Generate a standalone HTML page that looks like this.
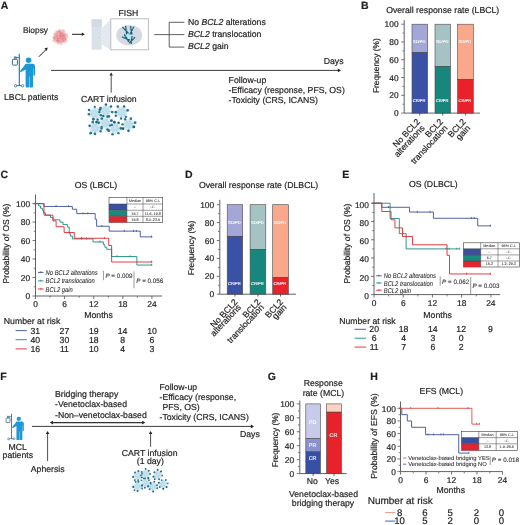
<!DOCTYPE html><html><head><meta charset="utf-8"><title>Figure</title><style>html,body{margin:0;padding:0;background:#fff;width:520px;height:525px;overflow:hidden}svg{display:block}svg text{fill:#231f20;stroke:#231f20;stroke-width:0.2px}</style></head><body><svg width="520" height="525" viewBox="0 0 520 525" font-family='"Liberation Sans", Arial, Helvetica, sans-serif' fill="#231f20" text-rendering="geometricPrecision"><text x="0.80" y="9.10" font-size="10.5" font-weight="bold">A</text>
<text x="22.90" y="33.20" font-size="8.4">Biopsy</text>
<defs><radialGradient id="blob" cx="50%" cy="50%" r="50%"><stop offset="0" stop-color="#ec9599"/><stop offset="0.75" stop-color="#f0a7aa"/><stop offset="1" stop-color="#f6c9cb" stop-opacity="0.5"/></radialGradient></defs>
<circle cx="66.6" cy="37.1" r="1.80" fill="#f3b9bc" opacity="0.75"/>
<circle cx="65.5" cy="40.5" r="1.86" fill="#f3b9bc" opacity="0.75"/>
<circle cx="64.6" cy="41.3" r="1.87" fill="#f3b9bc" opacity="0.75"/>
<circle cx="61.2" cy="43.5" r="1.46" fill="#f3b9bc" opacity="0.75"/>
<circle cx="58.7" cy="43.0" r="1.67" fill="#f3b9bc" opacity="0.75"/>
<circle cx="56.1" cy="41.5" r="1.51" fill="#f3b9bc" opacity="0.75"/>
<circle cx="54.1" cy="40.2" r="1.78" fill="#f3b9bc" opacity="0.75"/>
<circle cx="53.4" cy="37.6" r="1.47" fill="#f3b9bc" opacity="0.75"/>
<circle cx="54.6" cy="34.1" r="1.40" fill="#f3b9bc" opacity="0.75"/>
<circle cx="56.7" cy="31.7" r="1.51" fill="#f3b9bc" opacity="0.75"/>
<circle cx="59.5" cy="30.2" r="1.54" fill="#f3b9bc" opacity="0.75"/>
<circle cx="62.3" cy="30.9" r="1.74" fill="#f3b9bc" opacity="0.75"/>
<circle cx="63.7" cy="31.3" r="1.75" fill="#f3b9bc" opacity="0.75"/>
<circle cx="66.4" cy="34.9" r="1.55" fill="#f3b9bc" opacity="0.75"/>
<circle cx="60" cy="36.9" r="7.0" fill="url(#blob)"/>
<circle cx="58.4" cy="38.8" r="0.56" fill="#d56872" opacity="0.5"/>
<circle cx="63.0" cy="38.2" r="0.74" fill="#d56872" opacity="0.5"/>
<circle cx="64.9" cy="37.0" r="0.64" fill="#d56872" opacity="0.5"/>
<circle cx="58.0" cy="41.9" r="0.69" fill="#d56872" opacity="0.5"/>
<circle cx="58.3" cy="40.7" r="0.78" fill="#d56872" opacity="0.5"/>
<circle cx="65.5" cy="39.0" r="0.51" fill="#d56872" opacity="0.5"/>
<circle cx="60.0" cy="31.4" r="0.51" fill="#d56872" opacity="0.5"/>
<circle cx="60.9" cy="33.4" r="0.73" fill="#d56872" opacity="0.5"/>
<circle cx="61.3" cy="37.0" r="0.57" fill="#d56872" opacity="0.5"/>
<circle cx="62.6" cy="36.2" r="0.80" fill="#d56872" opacity="0.5"/>
<circle cx="65.3" cy="34.4" r="0.64" fill="#d56872" opacity="0.5"/>
<circle cx="57.3" cy="40.3" r="0.81" fill="#d56872" opacity="0.5"/>
<circle cx="64.0" cy="40.2" r="0.82" fill="#d56872" opacity="0.5"/>
<circle cx="60.7" cy="36.0" r="0.88" fill="#d56872" opacity="0.5"/>
<circle cx="62.9" cy="38.8" r="0.74" fill="#d56872" opacity="0.5"/>
<circle cx="63.0" cy="35.2" r="0.87" fill="#d56872" opacity="0.5"/>
<circle cx="56.8" cy="36.0" r="0.63" fill="#d56872" opacity="0.5"/>
<circle cx="60.7" cy="38.4" r="0.56" fill="#d56872" opacity="0.5"/>
<circle cx="57.8" cy="31.3" r="0.56" fill="#d56872" opacity="0.5"/>
<circle cx="65.7" cy="38.7" r="0.71" fill="#d56872" opacity="0.5"/>
<circle cx="57.6" cy="38.5" r="0.74" fill="#d56872" opacity="0.5"/>
<circle cx="61.9" cy="33.3" r="0.67" fill="#d56872" opacity="0.5"/>
<circle cx="65.4" cy="38.9" r="0.51" fill="#d56872" opacity="0.5"/>
<circle cx="54.5" cy="37.1" r="0.55" fill="#d56872" opacity="0.5"/>
<circle cx="59.3" cy="31.1" r="0.75" fill="#d56872" opacity="0.5"/>
<circle cx="60.5" cy="35.0" r="0.67" fill="#d56872" opacity="0.5"/>
<circle cx="63.3" cy="41.3" r="0.62" fill="#d56872" opacity="0.5"/>
<circle cx="54.3" cy="38.6" r="0.84" fill="#d56872" opacity="0.5"/>
<circle cx="64.0" cy="36.3" r="0.70" fill="#d56872" opacity="0.5"/>
<circle cx="59.5" cy="32.8" r="0.62" fill="#d56872" opacity="0.5"/>
<line x1="72.00" y1="34.30" x2="82.50" y2="34.30" stroke="#231f20" stroke-width="1.0"/>
<polygon points="84.80,34.30 81.80,32.56 81.80,36.04" fill="#231f20"/>
<line x1="38.80" y1="56.80" x2="45.60" y2="50.00" stroke="#231f20" stroke-width="1.0"/>
<polygon points="47.70,47.60 44.35,48.49 46.81,50.95" fill="#231f20"/>
<g transform="translate(0,0) scale(1.0)"><line x1="19.3" y1="53.8" x2="19.3" y2="85.8" stroke="#2f6e8a" stroke-width="1.1"/><line x1="15.2" y1="57.6" x2="19.3" y2="57.6" stroke="#2f6e8a" stroke-width="0.9"/><rect x="14.3" y="56.9" width="1.9" height="2.2" fill="none" stroke="#2f6e8a" stroke-width="0.8"/><rect x="12.4" y="59.3" width="5.0" height="5.8" rx="0.8" fill="#fff" stroke="#2f6e8a" stroke-width="1.0"/><line x1="15.6" y1="85.6" x2="22.6" y2="85.6" stroke="#2f6e8a" stroke-width="0.9"/><circle cx="15.6" cy="85.8" r="1.2" fill="#fff" stroke="#2f6e8a" stroke-width="0.8"/><circle cx="22.6" cy="85.8" r="1.2" fill="#fff" stroke="#2f6e8a" stroke-width="0.8"/><circle cx="28.6" cy="60.3" r="2.75" fill="#1b98d5"/><path d="M24.6 65.2 Q25 63.8 26.6 63.8 L32.6 63.8 Q34.8 63.8 35 66 L35 75 Q35 75.8 34.2 75.8 Q33.4 75.8 33.4 75 L33.4 68.5 L33.1 68.5 L33.1 86.6 Q33.1 87.4 32.2 87.4 L30.2 87.4 Q29.5 87.4 29.5 86.6 L29.5 76.5 L29.1 76.5 L29.1 86.6 Q29.1 87.4 28.3 87.4 L26.4 87.4 Q25.6 87.4 25.6 86.6 L25.6 69.5 L21.2 72 Q20.4 72.4 20.1 71.6 Q19.9 70.9 20.6 70.4 Z" fill="#1b98d5"/></g>
<text x="4.00" y="100.40" font-size="8.7">LBCL patients</text>
<rect x="91.6" y="19.3" width="10.1" height="30.4" fill="#d9e1ea"/>
<rect x="91.6" y="19.3" width="10.1" height="7.5" fill="#d2dae4"/>
<circle cx="98" cy="36.3" r="1.5" fill="#eee6d2"/>
<circle cx="98.6" cy="37" r="0.5" fill="#b9a98a"/>
<polygon points="101.7,28.6 110.8,18.8 110.8,49.8 101.7,44.6" fill="#e3e9ef"/>
<rect x="110.8" y="18.8" width="37.6" height="31" fill="#fff" stroke="#b3b7bc" stroke-width="0.9"/>
<ellipse cx="129.2" cy="35.2" rx="13" ry="10.3" fill="#d5dae2"/>
<ellipse cx="128.2" cy="35.8" rx="4.2" ry="4.8" fill="#bfe5ef" opacity="0.9"/>
<g transform="translate(125.8,30.2) rotate(-25) scale(1)"><path d="M-1.5 -3.6 L0.9 3.6 M1.5 -3.6 L-0.9 3.6" stroke="#22647b" stroke-width="1.35" fill="none" stroke-linecap="round"/><path d="M-1.1 -2.2 L1.1 -2.2" stroke="#6fbfd3" stroke-width="0.7"/></g>
<g transform="translate(131.5,30.5) rotate(8) scale(1)"><path d="M-1.5 -3.6 L0.9 3.6 M1.5 -3.6 L-0.9 3.6" stroke="#22647b" stroke-width="1.35" fill="none" stroke-linecap="round"/><path d="M-1.1 -2.2 L1.1 -2.2" stroke="#6fbfd3" stroke-width="0.7"/></g>
<g transform="translate(126.4,38.4) rotate(-50) scale(1.05)"><path d="M-1.5 -3.6 L0.9 3.6 M1.5 -3.6 L-0.9 3.6" stroke="#22647b" stroke-width="1.35" fill="none" stroke-linecap="round"/><path d="M-1.1 -2.2 L1.1 -2.2" stroke="#6fbfd3" stroke-width="0.7"/></g>
<g transform="translate(131.9,40.0) rotate(25) scale(0.95)"><path d="M-1.5 -3.6 L0.9 3.6 M1.5 -3.6 L-0.9 3.6" stroke="#22647b" stroke-width="1.35" fill="none" stroke-linecap="round"/><path d="M-1.1 -2.2 L1.1 -2.2" stroke="#6fbfd3" stroke-width="0.7"/></g>
<text x="118.50" y="16.20" font-size="8.7">FISH</text>
<line x1="154.20" y1="34.60" x2="169.20" y2="34.60" stroke="#3a3a3a" stroke-width="0.8"/>
<line x1="169.20" y1="22.30" x2="169.20" y2="47.10" stroke="#3a3a3a" stroke-width="0.8"/>
<line x1="169.20" y1="22.30" x2="184.30" y2="22.30" stroke="#3a3a3a" stroke-width="0.8"/>
<line x1="169.20" y1="34.60" x2="184.30" y2="34.60" stroke="#3a3a3a" stroke-width="0.8"/>
<line x1="169.20" y1="47.10" x2="184.30" y2="47.10" stroke="#3a3a3a" stroke-width="0.8"/>
<text x="188" y="25.1" font-size="8.7">No <tspan font-style="italic">BCL2</tspan> alterations</text>
<text x="188" y="37.2" font-size="8.7"><tspan font-style="italic">BCL2</tspan> translocation</text>
<text x="188" y="49.3" font-size="8.7"><tspan font-style="italic">BCL2</tspan> gain</text>
<line x1="51.00" y1="70.40" x2="338.00" y2="70.40" stroke="#3d3d3d" stroke-width="1.0"/>
<polygon points="341.00,70.40 337.80,68.54 337.80,72.26" fill="#231f20"/>
<text x="323.70" y="64.40" font-size="8.7">Days</text>
<line x1="111.20" y1="92.70" x2="111.20" y2="75.50" stroke="#231f20" stroke-width="0.8"/>
<polygon points="111.20,72.60 109.46,75.60 112.94,75.60" fill="#231f20"/>
<text x="81.00" y="101.60" font-size="8.7">CART infusion</text>
<g transform="translate(111.6,120.4) scale(1.07)"><circle cx="-15.6" cy="-6.25" r="5.6" fill="#d9ecf3"/><circle cx="-5.6" cy="-9" r="5.6" fill="#d9ecf3"/><circle cx="9.4" cy="-7.5" r="5.6" fill="#d9ecf3"/><circle cx="-5.6" cy="2.5" r="5.6" fill="#d9ecf3"/><circle cx="-15.6" cy="7" r="5.6" fill="#d9ecf3"/><circle cx="3.4" cy="7" r="5.6" fill="#d9ecf3"/><circle cx="15.9" cy="4" r="5.6" fill="#d9ecf3"/><circle cx="-15.6" cy="-6.25" r="3.6" fill="#c2dfeb"/><circle cx="-5.6" cy="-9" r="3.6" fill="#c2dfeb"/><circle cx="9.4" cy="-7.5" r="3.6" fill="#c2dfeb"/><circle cx="-5.6" cy="2.5" r="3.6" fill="#c2dfeb"/><circle cx="-15.6" cy="7" r="3.6" fill="#c2dfeb"/><circle cx="3.4" cy="7" r="3.6" fill="#c2dfeb"/><circle cx="15.9" cy="4" r="3.6" fill="#c2dfeb"/><line x1="-13.2" y1="-5.7" x2="-10.0" y2="-4.9" stroke="#b3d9e8" stroke-width="0.9"/><line x1="-14.6" y1="-4.0" x2="-13.1" y2="-0.7" stroke="#b3d9e8" stroke-width="0.9"/><line x1="-16.3" y1="-3.8" x2="-17.0" y2="-1.1" stroke="#b3d9e8" stroke-width="0.9"/><line x1="-18.1" y1="-6.0" x2="-21.2" y2="-5.7" stroke="#b3d9e8" stroke-width="0.9"/><line x1="-17.7" y1="-7.6" x2="-21.1" y2="-9.7" stroke="#b3d9e8" stroke-width="0.9"/><line x1="-15.7" y1="-8.7" x2="-15.7" y2="-12.6" stroke="#b3d9e8" stroke-width="0.9"/><line x1="-13.7" y1="-7.8" x2="-10.9" y2="-10.1" stroke="#b3d9e8" stroke-width="0.9"/><line x1="-3.1" y1="-8.5" x2="0.6" y2="-7.8" stroke="#b3d9e8" stroke-width="0.9"/><line x1="-4.3" y1="-6.8" x2="-2.5" y2="-3.7" stroke="#b3d9e8" stroke-width="0.9"/><line x1="-6.6" y1="-6.7" x2="-7.8" y2="-4.1" stroke="#b3d9e8" stroke-width="0.9"/><line x1="-8.0" y1="-8.5" x2="-11.5" y2="-7.7" stroke="#b3d9e8" stroke-width="0.9"/><line x1="-7.8" y1="-10.2" x2="-10.3" y2="-11.6" stroke="#b3d9e8" stroke-width="0.9"/><line x1="-5.5" y1="-11.5" x2="-5.3" y2="-14.9" stroke="#b3d9e8" stroke-width="0.9"/><line x1="-3.6" y1="-10.6" x2="-0.6" y2="-13.0" stroke="#b3d9e8" stroke-width="0.9"/><line x1="11.1" y1="-5.7" x2="13.4" y2="-3.3" stroke="#b3d9e8" stroke-width="0.9"/><line x1="9.2" y1="-5.0" x2="8.9" y2="-1.7" stroke="#b3d9e8" stroke-width="0.9"/><line x1="7.2" y1="-6.2" x2="3.9" y2="-4.3" stroke="#b3d9e8" stroke-width="0.9"/><line x1="6.9" y1="-7.6" x2="3.9" y2="-7.7" stroke="#b3d9e8" stroke-width="0.9"/><line x1="8.0" y1="-9.6" x2="5.8" y2="-12.9" stroke="#b3d9e8" stroke-width="0.9"/><line x1="10.4" y1="-9.8" x2="11.7" y2="-13.1" stroke="#b3d9e8" stroke-width="0.9"/><line x1="11.8" y1="-8.3" x2="15.0" y2="-9.4" stroke="#b3d9e8" stroke-width="0.9"/><line x1="-3.2" y1="3.2" x2="0.2" y2="4.2" stroke="#b3d9e8" stroke-width="0.9"/><line x1="-4.9" y1="4.9" x2="-3.8" y2="8.6" stroke="#b3d9e8" stroke-width="0.9"/><line x1="-7.1" y1="4.5" x2="-9.4" y2="7.6" stroke="#b3d9e8" stroke-width="0.9"/><line x1="-8.1" y1="2.4" x2="-12.1" y2="2.2" stroke="#b3d9e8" stroke-width="0.9"/><line x1="-7.2" y1="0.6" x2="-9.2" y2="-1.7" stroke="#b3d9e8" stroke-width="0.9"/><line x1="-4.9" y1="0.1" x2="-3.9" y2="-3.7" stroke="#b3d9e8" stroke-width="0.9"/><line x1="-3.3" y1="1.6" x2="-0.1" y2="0.2" stroke="#b3d9e8" stroke-width="0.9"/><line x1="-13.4" y1="8.3" x2="-10.2" y2="10.2" stroke="#b3d9e8" stroke-width="0.9"/><line x1="-15.6" y1="9.5" x2="-15.6" y2="12.6" stroke="#b3d9e8" stroke-width="0.9"/><line x1="-17.2" y1="8.9" x2="-19.6" y2="11.9" stroke="#b3d9e8" stroke-width="0.9"/><line x1="-17.9" y1="6.1" x2="-20.6" y2="5.0" stroke="#b3d9e8" stroke-width="0.9"/><line x1="-16.5" y1="4.7" x2="-17.6" y2="1.6" stroke="#b3d9e8" stroke-width="0.9"/><line x1="-14.9" y1="4.6" x2="-14.1" y2="1.6" stroke="#b3d9e8" stroke-width="0.9"/><line x1="-13.1" y1="6.6" x2="-9.3" y2="6.1" stroke="#b3d9e8" stroke-width="0.9"/><line x1="5.9" y1="7.2" x2="8.7" y2="7.5" stroke="#b3d9e8" stroke-width="0.9"/><line x1="4.7" y1="9.1" x2="6.4" y2="11.9" stroke="#b3d9e8" stroke-width="0.9"/><line x1="2.4" y1="9.3" x2="0.8" y2="12.9" stroke="#b3d9e8" stroke-width="0.9"/><line x1="1.1" y1="8.0" x2="-2.6" y2="9.6" stroke="#b3d9e8" stroke-width="0.9"/><line x1="1.1" y1="6.0" x2="-1.5" y2="4.8" stroke="#b3d9e8" stroke-width="0.9"/><line x1="3.0" y1="4.5" x2="2.6" y2="1.7" stroke="#b3d9e8" stroke-width="0.9"/><line x1="4.8" y1="4.9" x2="6.6" y2="2.2" stroke="#b3d9e8" stroke-width="0.9"/><line x1="18.2" y1="5.0" x2="20.8" y2="6.1" stroke="#b3d9e8" stroke-width="0.9"/><line x1="15.8" y1="6.5" x2="15.8" y2="9.7" stroke="#b3d9e8" stroke-width="0.9"/><line x1="13.9" y1="5.4" x2="10.7" y2="7.7" stroke="#b3d9e8" stroke-width="0.9"/><line x1="13.4" y1="3.9" x2="10.1" y2="3.7" stroke="#b3d9e8" stroke-width="0.9"/><line x1="14.6" y1="1.9" x2="12.6" y2="-1.1" stroke="#b3d9e8" stroke-width="0.9"/><line x1="16.8" y1="1.7" x2="18.0" y2="-1.6" stroke="#b3d9e8" stroke-width="0.9"/><line x1="18.3" y1="3.3" x2="22.0" y2="2.1" stroke="#b3d9e8" stroke-width="0.9"/><circle cx="-10.0" cy="-4.9" r="1.18" fill="#2a7890"/><circle cx="-13.1" cy="-0.7" r="1.12" fill="#1f6580"/><circle cx="-17.0" cy="-1.1" r="1.34" fill="#2a7890"/><circle cx="-21.2" cy="-5.7" r="1.21" fill="#2a7890"/><circle cx="-21.1" cy="-9.7" r="1.17" fill="#2a7890"/><circle cx="-15.7" cy="-12.6" r="1.06" fill="#2a7890"/><circle cx="-10.9" cy="-10.1" r="1.24" fill="#1f6580"/><circle cx="0.6" cy="-7.8" r="1.24" fill="#2a7890"/><circle cx="-2.5" cy="-3.7" r="1.25" fill="#2a7890"/><circle cx="-7.8" cy="-4.1" r="1.26" fill="#2a7890"/><circle cx="-11.5" cy="-7.7" r="1.06" fill="#1f6580"/><circle cx="-10.3" cy="-11.6" r="1.25" fill="#2a7890"/><circle cx="-5.3" cy="-14.9" r="1.13" fill="#1f6580"/><circle cx="-0.6" cy="-13.0" r="1.23" fill="#2a7890"/><circle cx="13.4" cy="-3.3" r="1.16" fill="#2a7890"/><circle cx="8.9" cy="-1.7" r="1.16" fill="#2a7890"/><circle cx="3.9" cy="-4.3" r="1.14" fill="#2a7890"/><circle cx="3.9" cy="-7.7" r="1.28" fill="#2a7890"/><circle cx="5.8" cy="-12.9" r="1.22" fill="#2a7890"/><circle cx="11.7" cy="-13.1" r="1.14" fill="#1f6580"/><circle cx="15.0" cy="-9.4" r="1.29" fill="#2a7890"/><circle cx="0.2" cy="4.2" r="1.11" fill="#2a7890"/><circle cx="-3.8" cy="8.6" r="1.26" fill="#2a7890"/><circle cx="-9.4" cy="7.6" r="1.15" fill="#2a7890"/><circle cx="-12.1" cy="2.2" r="1.30" fill="#2a7890"/><circle cx="-9.2" cy="-1.7" r="1.31" fill="#2a7890"/><circle cx="-3.9" cy="-3.7" r="1.15" fill="#2a7890"/><circle cx="-0.1" cy="0.2" r="1.32" fill="#1f6580"/><circle cx="-10.2" cy="10.2" r="1.12" fill="#2a7890"/><circle cx="-15.6" cy="12.6" r="1.21" fill="#2a7890"/><circle cx="-19.6" cy="11.9" r="1.29" fill="#2a7890"/><circle cx="-20.6" cy="5.0" r="1.11" fill="#1f6580"/><circle cx="-17.6" cy="1.6" r="1.29" fill="#2a7890"/><circle cx="-14.1" cy="1.6" r="1.29" fill="#1f6580"/><circle cx="-9.3" cy="6.1" r="1.09" fill="#2a7890"/><circle cx="8.7" cy="7.5" r="1.29" fill="#2a7890"/><circle cx="6.4" cy="11.9" r="1.15" fill="#2a7890"/><circle cx="0.8" cy="12.9" r="1.18" fill="#2a7890"/><circle cx="-2.6" cy="9.6" r="1.33" fill="#2a7890"/><circle cx="-1.5" cy="4.8" r="1.05" fill="#2a7890"/><circle cx="2.6" cy="1.7" r="1.31" fill="#1f6580"/><circle cx="6.6" cy="2.2" r="1.18" fill="#1f6580"/><circle cx="20.8" cy="6.1" r="1.33" fill="#1f6580"/><circle cx="15.8" cy="9.7" r="1.27" fill="#2a7890"/><circle cx="10.7" cy="7.7" r="1.25" fill="#1f6580"/><circle cx="10.1" cy="3.7" r="1.14" fill="#2a7890"/><circle cx="12.6" cy="-1.1" r="1.12" fill="#2a7890"/><circle cx="18.0" cy="-1.6" r="1.23" fill="#2a7890"/><circle cx="22.0" cy="2.1" r="1.29" fill="#2a7890"/></g>
<text x="228.60" y="82.50" font-size="8.7">Follow-up</text>
<text x="228.60" y="92.80" font-size="8.7">-Efficacy (response, PFS, OS)</text>
<text x="228.60" y="103.00" font-size="8.7">-Toxicity (CRS, ICANS)</text>
<text x="360.90" y="9.20" font-size="10.5" font-weight="bold">B</text>
<text x="386.20" y="13.20" font-size="8.7">Overall response rate (LBCL)</text>
<line x1="404.20" y1="20.00" x2="404.20" y2="113.10" stroke="#505050" stroke-width="0.9"/>
<line x1="404.20" y1="113.10" x2="480.00" y2="113.10" stroke="#505050" stroke-width="0.9"/>
<line x1="401.20" y1="113.10" x2="404.20" y2="113.10" stroke="#505050" stroke-width="0.8"/>
<text x="398.60" y="116.10" font-size="8.4" text-anchor="end">0</text>
<line x1="402.40" y1="104.21" x2="404.20" y2="104.21" stroke="#505050" stroke-width="0.7"/>
<line x1="401.20" y1="95.32" x2="404.20" y2="95.32" stroke="#505050" stroke-width="0.8"/>
<text x="398.60" y="98.32" font-size="8.4" text-anchor="end">20</text>
<line x1="402.40" y1="86.43" x2="404.20" y2="86.43" stroke="#505050" stroke-width="0.7"/>
<line x1="401.20" y1="77.54" x2="404.20" y2="77.54" stroke="#505050" stroke-width="0.8"/>
<text x="398.60" y="80.54" font-size="8.4" text-anchor="end">40</text>
<line x1="402.40" y1="68.65" x2="404.20" y2="68.65" stroke="#505050" stroke-width="0.7"/>
<line x1="401.20" y1="59.76" x2="404.20" y2="59.76" stroke="#505050" stroke-width="0.8"/>
<text x="398.60" y="62.76" font-size="8.4" text-anchor="end">60</text>
<line x1="402.40" y1="50.87" x2="404.20" y2="50.87" stroke="#505050" stroke-width="0.7"/>
<line x1="401.20" y1="41.98" x2="404.20" y2="41.98" stroke="#505050" stroke-width="0.8"/>
<text x="398.60" y="44.98" font-size="8.4" text-anchor="end">80</text>
<line x1="402.40" y1="33.09" x2="404.20" y2="33.09" stroke="#505050" stroke-width="0.7"/>
<line x1="401.20" y1="24.20" x2="404.20" y2="24.20" stroke="#505050" stroke-width="0.8"/>
<text x="398.60" y="27.20" font-size="8.4" text-anchor="end">100</text>
<text transform="translate(379.3,65.7) rotate(-90)" font-size="8.35" text-anchor="middle">Frequency (%)</text>
<rect x="412.0" y="24.2" width="15.60" height="28.36" fill="#a3a6d6" stroke="#4a4a4a" stroke-width="0.6"/>
<rect x="412.0" y="52.56" width="15.60" height="60.54" fill="#3a52a5" stroke="#4a4a4a" stroke-width="0.6"/>
<text x="419.20" y="42.98" font-size="4.1" text-anchor="middle" style="fill:#ffffff;stroke:#ffffff;stroke-width:0.12px;">SD/PD</text>
<text x="419.20" y="101.88" font-size="4.1" text-anchor="middle" style="fill:#ffffff;stroke:#ffffff;stroke-width:0.12px;">CR/PR</text>
<line x1="419.80" y1="113.10" x2="419.80" y2="115.50" stroke="#3a3a3a" stroke-width="0.8"/>
<rect x="435.0" y="24.2" width="15.50" height="42.14" fill="#a5c3c2" stroke="#4a4a4a" stroke-width="0.6"/>
<rect x="435.0" y="66.34" width="15.50" height="46.76" fill="#17867c" stroke="#4a4a4a" stroke-width="0.6"/>
<text x="442.15" y="42.98" font-size="4.1" text-anchor="middle" style="fill:#ffffff;stroke:#ffffff;stroke-width:0.12px;">SD/PD</text>
<text x="442.15" y="101.88" font-size="4.1" text-anchor="middle" style="fill:#ffffff;stroke:#ffffff;stroke-width:0.12px;">CR/PR</text>
<line x1="442.75" y1="113.10" x2="442.75" y2="115.50" stroke="#3a3a3a" stroke-width="0.8"/>
<rect x="457.6" y="24.2" width="15.70" height="55.38" fill="#f9a88c" stroke="#4a4a4a" stroke-width="0.6"/>
<rect x="457.6" y="79.58" width="15.70" height="33.52" fill="#e8212b" stroke="#4a4a4a" stroke-width="0.6"/>
<text x="464.85" y="42.98" font-size="4.1" text-anchor="middle" style="fill:#ffffff;stroke:#ffffff;stroke-width:0.12px;">SD/PD</text>
<text x="464.85" y="101.88" font-size="4.1" text-anchor="middle" style="fill:#ffffff;stroke:#ffffff;stroke-width:0.12px;">CR/PR</text>
<line x1="465.45" y1="113.10" x2="465.45" y2="115.50" stroke="#3a3a3a" stroke-width="0.8"/>
<text transform="translate(420.60,122.20) rotate(-47)" font-size="8.7" text-anchor="end">No BCL2</text>
<text transform="translate(425.10,128.50) rotate(-47)" font-size="8.7" text-anchor="end">alterations</text>
<text transform="translate(443.55,122.20) rotate(-47)" font-size="8.7" text-anchor="end">BCL2</text>
<text transform="translate(448.05,128.50) rotate(-47)" font-size="8.7" text-anchor="end">translocation</text>
<text transform="translate(466.25,122.20) rotate(-47)" font-size="8.7" text-anchor="end">BCL2</text>
<text transform="translate(470.75,128.50) rotate(-47)" font-size="8.7" text-anchor="end">gain</text>
<text x="0.40" y="177.90" font-size="10.5" font-weight="bold">C</text>
<text x="74.70" y="187.60" font-size="8.7">OS (LBCL)</text>
<line x1="35.50" y1="194.40" x2="35.50" y2="296.00" stroke="#505050" stroke-width="0.9"/>
<line x1="35.50" y1="296.00" x2="162.00" y2="296.00" stroke="#505050" stroke-width="0.9"/>
<line x1="32.50" y1="296.00" x2="35.50" y2="296.00" stroke="#505050" stroke-width="0.8"/>
<text x="30.10" y="299.40" font-size="8.4" text-anchor="end">0</text>
<line x1="33.70" y1="286.76" x2="35.50" y2="286.76" stroke="#505050" stroke-width="0.7"/>
<line x1="32.50" y1="277.52" x2="35.50" y2="277.52" stroke="#505050" stroke-width="0.8"/>
<text x="30.10" y="280.92" font-size="8.4" text-anchor="end">20</text>
<line x1="33.70" y1="268.28" x2="35.50" y2="268.28" stroke="#505050" stroke-width="0.7"/>
<line x1="32.50" y1="259.04" x2="35.50" y2="259.04" stroke="#505050" stroke-width="0.8"/>
<text x="30.10" y="262.44" font-size="8.4" text-anchor="end">40</text>
<line x1="33.70" y1="249.80" x2="35.50" y2="249.80" stroke="#505050" stroke-width="0.7"/>
<line x1="32.50" y1="240.56" x2="35.50" y2="240.56" stroke="#505050" stroke-width="0.8"/>
<text x="30.10" y="243.96" font-size="8.4" text-anchor="end">60</text>
<line x1="33.70" y1="231.32" x2="35.50" y2="231.32" stroke="#505050" stroke-width="0.7"/>
<line x1="32.50" y1="222.08" x2="35.50" y2="222.08" stroke="#505050" stroke-width="0.8"/>
<text x="30.10" y="225.48" font-size="8.4" text-anchor="end">80</text>
<line x1="33.70" y1="212.84" x2="35.50" y2="212.84" stroke="#505050" stroke-width="0.7"/>
<line x1="32.50" y1="203.60" x2="35.50" y2="203.60" stroke="#505050" stroke-width="0.8"/>
<text x="30.10" y="207.00" font-size="8.4" text-anchor="end">100</text>
<line x1="35.50" y1="296.00" x2="35.50" y2="299.00" stroke="#505050" stroke-width="0.8"/>
<text x="35.50" y="307.00" font-size="8.4" text-anchor="middle">0</text>
<line x1="50.05" y1="296.00" x2="50.05" y2="297.80" stroke="#505050" stroke-width="0.7"/>
<line x1="64.60" y1="296.00" x2="64.60" y2="299.00" stroke="#505050" stroke-width="0.8"/>
<text x="64.60" y="307.00" font-size="8.4" text-anchor="middle">6</text>
<line x1="79.15" y1="296.00" x2="79.15" y2="297.80" stroke="#505050" stroke-width="0.7"/>
<line x1="93.70" y1="296.00" x2="93.70" y2="299.00" stroke="#505050" stroke-width="0.8"/>
<text x="93.70" y="307.00" font-size="8.4" text-anchor="middle">12</text>
<line x1="108.25" y1="296.00" x2="108.25" y2="297.80" stroke="#505050" stroke-width="0.7"/>
<line x1="122.80" y1="296.00" x2="122.80" y2="299.00" stroke="#505050" stroke-width="0.8"/>
<text x="122.80" y="307.00" font-size="8.4" text-anchor="middle">18</text>
<line x1="137.35" y1="296.00" x2="137.35" y2="297.80" stroke="#505050" stroke-width="0.7"/>
<line x1="151.90" y1="296.00" x2="151.90" y2="299.00" stroke="#505050" stroke-width="0.8"/>
<text x="151.90" y="307.00" font-size="8.4" text-anchor="middle">24</text>
<text transform="translate(8.8,243.5) rotate(-90)" font-size="8.55" text-anchor="middle">Probability of OS (%)</text>
<text x="98.50" y="317.80" font-size="8.7" text-anchor="middle">Months</text>
<path d="M34.00 203.60 H43.99 V206.46 H72.36 V209.24 H76.72 V213.58 H95.16 V219.31 H96.61 V226.24 H109.22 V231.14 H140.26 V236.86 H152.38" fill="none" stroke="#3b4fa0" stroke-width="0.9"/>
<line x1="56.11" y1="205.16" x2="56.11" y2="207.06" stroke="#3b4fa0" stroke-width="0.8"/>
<line x1="68.48" y1="205.16" x2="68.48" y2="207.06" stroke="#3b4fa0" stroke-width="0.8"/>
<line x1="83.03" y1="212.28" x2="83.03" y2="214.18" stroke="#3b4fa0" stroke-width="0.8"/>
<line x1="87.88" y1="212.28" x2="87.88" y2="214.18" stroke="#3b4fa0" stroke-width="0.8"/>
<line x1="101.94" y1="224.94" x2="101.94" y2="226.84" stroke="#3b4fa0" stroke-width="0.8"/>
<line x1="124.25" y1="229.84" x2="124.25" y2="231.74" stroke="#3b4fa0" stroke-width="0.8"/>
<line x1="133.47" y1="229.84" x2="133.47" y2="231.74" stroke="#3b4fa0" stroke-width="0.8"/>
<line x1="136.38" y1="229.84" x2="136.38" y2="231.74" stroke="#3b4fa0" stroke-width="0.8"/>
<line x1="151.41" y1="235.56" x2="151.41" y2="237.46" stroke="#3b4fa0" stroke-width="0.8"/>
<path d="M34.00 203.60 H38.60 V205.91 H40.50 V208.22 H42.39 V210.53 H43.60 V212.84 H45.49 V215.15 H50.49 V217.46 H52.96 V219.77 H59.90 V222.08 H63.00 V224.57 H67.36 V227.07 H69.21 V233.63 H70.42 V236.12 H72.36 V238.90 H92.97 V241.95 H103.40 V244.72 H104.86 V247.31 H106.79 V249.34 H111.64 V256.55 H136.86 V265.05 H152.38" fill="none" stroke="#1a8a80" stroke-width="0.9"/>
<line x1="81.57" y1="237.60" x2="81.57" y2="239.50" stroke="#1a8a80" stroke-width="0.8"/>
<line x1="86.42" y1="237.60" x2="86.42" y2="239.50" stroke="#1a8a80" stroke-width="0.8"/>
<line x1="100.00" y1="240.65" x2="100.00" y2="242.55" stroke="#1a8a80" stroke-width="0.8"/>
<line x1="116.98" y1="255.25" x2="116.98" y2="257.15" stroke="#1a8a80" stroke-width="0.8"/>
<line x1="130.07" y1="255.25" x2="130.07" y2="257.15" stroke="#1a8a80" stroke-width="0.8"/>
<line x1="151.41" y1="263.75" x2="151.41" y2="265.65" stroke="#1a8a80" stroke-width="0.8"/>
<path d="M34.00 203.60 H43.99 V215.15 H52.96 V220.93 H56.11 V226.70 H64.11 V232.47 H74.30 V238.25 H108.73 V245.46 H111.64 V262.00 H152.38" fill="none" stroke="#e3262e" stroke-width="0.9"/>
<line x1="81.57" y1="236.95" x2="81.57" y2="238.85" stroke="#e3262e" stroke-width="0.8"/>
<line x1="104.37" y1="236.95" x2="104.37" y2="238.85" stroke="#e3262e" stroke-width="0.8"/>
<line x1="151.41" y1="260.70" x2="151.41" y2="262.60" stroke="#e3262e" stroke-width="0.8"/>
<rect x="109" y="197.4" width="53.70" height="25.00" fill="#fff" stroke="#3a3a3a" stroke-width="0.6"/>
<rect x="109" y="204.00" width="17.90" height="6.30" fill="#3b4fa0"/>
<rect x="109" y="210.30" width="17.90" height="6.00" fill="#1a8a80"/>
<rect x="109" y="216.30" width="17.90" height="6.10" fill="#e3262e"/>
<line x1="109.00" y1="204.00" x2="162.70" y2="204.00" stroke="#3a3a3a" stroke-width="0.5"/>
<line x1="109.00" y1="210.30" x2="162.70" y2="210.30" stroke="#3a3a3a" stroke-width="0.5"/>
<line x1="109.00" y1="216.30" x2="162.70" y2="216.30" stroke="#3a3a3a" stroke-width="0.5"/>
<line x1="126.90" y1="197.40" x2="126.90" y2="222.40" stroke="#3a3a3a" stroke-width="0.5"/>
<line x1="143.00" y1="197.40" x2="143.00" y2="222.40" stroke="#3a3a3a" stroke-width="0.5"/>
<text x="134.95" y="202.03" font-size="3.7" text-anchor="middle" style="fill:#333;stroke:#333;stroke-width:0.05px;">Median</text>
<text x="152.85" y="202.03" font-size="3.7" text-anchor="middle" style="fill:#333;stroke:#333;stroke-width:0.05px;">95% C.I.</text>
<text x="134.95" y="208.48" font-size="3.7" text-anchor="middle" style="fill:#333;stroke:#333;stroke-width:0.05px;">–</text>
<text x="152.85" y="208.48" font-size="3.7" text-anchor="middle" style="fill:#333;stroke:#333;stroke-width:0.05px;">–/–</text>
<text x="134.95" y="214.63" font-size="3.7" text-anchor="middle" style="fill:#333;stroke:#333;stroke-width:0.05px;">15.7</text>
<text x="152.85" y="214.63" font-size="3.7" text-anchor="middle" style="fill:#333;stroke:#333;stroke-width:0.05px;">11.6–19.8</text>
<text x="134.95" y="220.68" font-size="3.7" text-anchor="middle" style="fill:#333;stroke:#333;stroke-width:0.05px;">15.8</text>
<text x="152.85" y="220.68" font-size="3.7" text-anchor="middle" style="fill:#333;stroke:#333;stroke-width:0.05px;">8.0–23.6</text>
<line x1="38.00" y1="272.40" x2="43.50" y2="272.40" stroke="#3b4fa0" stroke-width="0.9"/>
<line x1="40.75" y1="271.20" x2="40.75" y2="273.00" stroke="#3b4fa0" stroke-width="0.7"/>
<text transform="translate(45.60,274.92) scale(0.83,1)" font-size="7.0" font-style="italic" style="fill:#333;stroke:#333;stroke-width:0.1px">No BCL2 alterations</text>
<line x1="38.00" y1="280.90" x2="43.50" y2="280.90" stroke="#1a8a80" stroke-width="0.9"/>
<line x1="40.75" y1="279.70" x2="40.75" y2="281.50" stroke="#1a8a80" stroke-width="0.7"/>
<text transform="translate(45.60,283.42) scale(0.83,1)" font-size="7.0" font-style="italic" style="fill:#333;stroke:#333;stroke-width:0.1px">BCL2 translocation</text>
<line x1="38.00" y1="289.00" x2="43.50" y2="289.00" stroke="#e3262e" stroke-width="0.9"/>
<line x1="40.75" y1="287.80" x2="40.75" y2="289.60" stroke="#e3262e" stroke-width="0.7"/>
<text transform="translate(45.60,291.52) scale(0.83,1)" font-size="7.0" font-style="italic" style="fill:#333;stroke:#333;stroke-width:0.1px">BCL2 gain</text>
<line x1="103.40" y1="270.70" x2="103.40" y2="280.20" stroke="#555" stroke-width="0.6"/>
<text x="105.40" y="278.07" font-size="6.3" style="fill:#333;stroke:#333;stroke-width:0.1px"><tspan font-style="italic">P</tspan> = 0.009</text>
<line x1="134.00" y1="271.40" x2="134.00" y2="288.20" stroke="#555" stroke-width="0.6"/>
<text x="136.20" y="282.57" font-size="6.3" style="fill:#333;stroke:#333;stroke-width:0.1px"><tspan font-style="italic">P</tspan> = 0.056</text>
<text x="3.80" y="323.60" font-size="8.7">Number at risk</text>
<line x1="15.60" y1="330.60" x2="26.80" y2="330.60" stroke="#3b4fa0" stroke-width="0.9"/>
<text x="35.30" y="333.60" font-size="8.7" text-anchor="middle">31</text>
<text x="64.40" y="333.60" font-size="8.7" text-anchor="middle">27</text>
<text x="93.80" y="333.60" font-size="8.7" text-anchor="middle">19</text>
<text x="122.60" y="333.60" font-size="8.7" text-anchor="middle">14</text>
<text x="152.00" y="333.60" font-size="8.7" text-anchor="middle">10</text>
<line x1="15.60" y1="339.70" x2="26.80" y2="339.70" stroke="#1a8a80" stroke-width="0.9"/>
<text x="35.30" y="342.70" font-size="8.7" text-anchor="middle">40</text>
<text x="64.40" y="342.70" font-size="8.7" text-anchor="middle">30</text>
<text x="93.80" y="342.70" font-size="8.7" text-anchor="middle">18</text>
<text x="122.60" y="342.70" font-size="8.7" text-anchor="middle">8</text>
<text x="152.00" y="342.70" font-size="8.7" text-anchor="middle">6</text>
<line x1="15.60" y1="348.90" x2="26.80" y2="348.90" stroke="#e3262e" stroke-width="0.9"/>
<text x="35.30" y="351.90" font-size="8.7" text-anchor="middle">16</text>
<text x="64.40" y="351.90" font-size="8.7" text-anchor="middle">11</text>
<text x="93.80" y="351.90" font-size="8.7" text-anchor="middle">10</text>
<text x="122.60" y="351.90" font-size="8.7" text-anchor="middle">4</text>
<text x="152.00" y="351.90" font-size="8.7" text-anchor="middle">3</text>
<text x="185.00" y="177.70" font-size="10.5" font-weight="bold">D</text>
<text x="198.90" y="188.10" font-size="8.7">Overall response rate (DLBCL)</text>
<line x1="219.80" y1="199.80" x2="219.80" y2="294.20" stroke="#505050" stroke-width="0.9"/>
<line x1="219.80" y1="294.20" x2="296.00" y2="294.20" stroke="#505050" stroke-width="0.9"/>
<line x1="216.80" y1="294.20" x2="219.80" y2="294.20" stroke="#505050" stroke-width="0.8"/>
<text x="214.20" y="297.20" font-size="8.4" text-anchor="end">0</text>
<line x1="218.00" y1="285.25" x2="219.80" y2="285.25" stroke="#505050" stroke-width="0.7"/>
<line x1="216.80" y1="276.30" x2="219.80" y2="276.30" stroke="#505050" stroke-width="0.8"/>
<text x="214.20" y="279.30" font-size="8.4" text-anchor="end">20</text>
<line x1="218.00" y1="267.35" x2="219.80" y2="267.35" stroke="#505050" stroke-width="0.7"/>
<line x1="216.80" y1="258.40" x2="219.80" y2="258.40" stroke="#505050" stroke-width="0.8"/>
<text x="214.20" y="261.40" font-size="8.4" text-anchor="end">40</text>
<line x1="218.00" y1="249.45" x2="219.80" y2="249.45" stroke="#505050" stroke-width="0.7"/>
<line x1="216.80" y1="240.50" x2="219.80" y2="240.50" stroke="#505050" stroke-width="0.8"/>
<text x="214.20" y="243.50" font-size="8.4" text-anchor="end">60</text>
<line x1="218.00" y1="231.55" x2="219.80" y2="231.55" stroke="#505050" stroke-width="0.7"/>
<line x1="216.80" y1="222.60" x2="219.80" y2="222.60" stroke="#505050" stroke-width="0.8"/>
<text x="214.20" y="225.60" font-size="8.4" text-anchor="end">80</text>
<line x1="218.00" y1="213.65" x2="219.80" y2="213.65" stroke="#505050" stroke-width="0.7"/>
<line x1="216.80" y1="204.70" x2="219.80" y2="204.70" stroke="#505050" stroke-width="0.8"/>
<text x="214.20" y="207.70" font-size="8.4" text-anchor="end">100</text>
<text transform="translate(194.4,248) rotate(-90)" font-size="8.35" text-anchor="middle">Frequency (%)</text>
<rect x="227.2" y="204.7" width="15.50" height="31.59" fill="#a3a6d6" stroke="#4a4a4a" stroke-width="0.6"/>
<rect x="227.2" y="236.29" width="15.50" height="57.91" fill="#3a52a5" stroke="#4a4a4a" stroke-width="0.6"/>
<text x="234.35" y="223.88" font-size="4.1" text-anchor="middle" style="fill:#ffffff;stroke:#ffffff;stroke-width:0.12px;">SD/PD</text>
<text x="234.35" y="284.68" font-size="4.1" text-anchor="middle" style="fill:#ffffff;stroke:#ffffff;stroke-width:0.12px;">CR/PR</text>
<line x1="234.95" y1="294.20" x2="234.95" y2="296.60" stroke="#3a3a3a" stroke-width="0.8"/>
<rect x="250.1" y="204.7" width="15.70" height="44.75" fill="#a5c3c2" stroke="#4a4a4a" stroke-width="0.6"/>
<rect x="250.1" y="249.45" width="15.70" height="44.75" fill="#17867c" stroke="#4a4a4a" stroke-width="0.6"/>
<text x="257.35" y="223.88" font-size="4.1" text-anchor="middle" style="fill:#ffffff;stroke:#ffffff;stroke-width:0.12px;">SD/PD</text>
<text x="257.35" y="284.68" font-size="4.1" text-anchor="middle" style="fill:#ffffff;stroke:#ffffff;stroke-width:0.12px;">CR/PR</text>
<line x1="257.95" y1="294.20" x2="257.95" y2="296.60" stroke="#3a3a3a" stroke-width="0.8"/>
<rect x="272.7" y="204.7" width="15.70" height="72.76" fill="#f9a88c" stroke="#4a4a4a" stroke-width="0.6"/>
<rect x="272.7" y="277.46" width="15.70" height="16.74" fill="#e8212b" stroke="#4a4a4a" stroke-width="0.6"/>
<text x="279.95" y="223.88" font-size="4.1" text-anchor="middle" style="fill:#ffffff;stroke:#ffffff;stroke-width:0.12px;">SD/PD</text>
<text x="279.95" y="284.68" font-size="4.1" text-anchor="middle" style="fill:#ffffff;stroke:#ffffff;stroke-width:0.12px;">CR/PR</text>
<line x1="280.55" y1="294.20" x2="280.55" y2="296.60" stroke="#3a3a3a" stroke-width="0.8"/>
<text transform="translate(238.05,302.50) rotate(-47)" font-size="8.7" text-anchor="end">No BCL2</text>
<text transform="translate(241.45,307.70) rotate(-47)" font-size="8.7" text-anchor="end">alterations</text>
<text transform="translate(261.05,302.50) rotate(-47)" font-size="8.7" text-anchor="end">BCL2</text>
<text transform="translate(264.45,307.70) rotate(-47)" font-size="8.7" text-anchor="end">translocation</text>
<text transform="translate(283.65,302.50) rotate(-47)" font-size="8.7" text-anchor="end">BCL2</text>
<text transform="translate(287.05,307.70) rotate(-47)" font-size="8.7" text-anchor="end">gain</text>
<text x="342.20" y="177.70" font-size="10.5" font-weight="bold">E</text>
<text x="409.00" y="187.20" font-size="8.7">OS (DLBCL)</text>
<line x1="374.00" y1="193.00" x2="374.00" y2="294.60" stroke="#505050" stroke-width="0.9"/>
<line x1="374.00" y1="294.60" x2="500.20" y2="294.60" stroke="#505050" stroke-width="0.9"/>
<line x1="371.00" y1="294.60" x2="374.00" y2="294.60" stroke="#505050" stroke-width="0.8"/>
<text x="368.90" y="299.00" font-size="8.4" text-anchor="end">0</text>
<line x1="372.20" y1="285.46" x2="374.00" y2="285.46" stroke="#505050" stroke-width="0.7"/>
<line x1="371.00" y1="276.32" x2="374.00" y2="276.32" stroke="#505050" stroke-width="0.8"/>
<text x="368.90" y="280.72" font-size="8.4" text-anchor="end">20</text>
<line x1="372.20" y1="267.18" x2="374.00" y2="267.18" stroke="#505050" stroke-width="0.7"/>
<line x1="371.00" y1="258.04" x2="374.00" y2="258.04" stroke="#505050" stroke-width="0.8"/>
<text x="368.90" y="262.44" font-size="8.4" text-anchor="end">40</text>
<line x1="372.20" y1="248.90" x2="374.00" y2="248.90" stroke="#505050" stroke-width="0.7"/>
<line x1="371.00" y1="239.76" x2="374.00" y2="239.76" stroke="#505050" stroke-width="0.8"/>
<text x="368.90" y="244.16" font-size="8.4" text-anchor="end">60</text>
<line x1="372.20" y1="230.62" x2="374.00" y2="230.62" stroke="#505050" stroke-width="0.7"/>
<line x1="371.00" y1="221.48" x2="374.00" y2="221.48" stroke="#505050" stroke-width="0.8"/>
<text x="368.90" y="225.88" font-size="8.4" text-anchor="end">80</text>
<line x1="372.20" y1="212.34" x2="374.00" y2="212.34" stroke="#505050" stroke-width="0.7"/>
<line x1="371.00" y1="203.20" x2="374.00" y2="203.20" stroke="#505050" stroke-width="0.8"/>
<text x="368.90" y="207.60" font-size="8.4" text-anchor="end">100</text>
<line x1="374.00" y1="294.60" x2="374.00" y2="297.60" stroke="#505050" stroke-width="0.8"/>
<text x="374.00" y="306.10" font-size="8.4" text-anchor="middle">0</text>
<line x1="388.61" y1="294.60" x2="388.61" y2="296.40" stroke="#505050" stroke-width="0.7"/>
<line x1="403.22" y1="294.60" x2="403.22" y2="297.60" stroke="#505050" stroke-width="0.8"/>
<text x="403.22" y="306.10" font-size="8.4" text-anchor="middle">6</text>
<line x1="417.83" y1="294.60" x2="417.83" y2="296.40" stroke="#505050" stroke-width="0.7"/>
<line x1="432.44" y1="294.60" x2="432.44" y2="297.60" stroke="#505050" stroke-width="0.8"/>
<text x="432.44" y="306.10" font-size="8.4" text-anchor="middle">12</text>
<line x1="447.05" y1="294.60" x2="447.05" y2="296.40" stroke="#505050" stroke-width="0.7"/>
<line x1="461.66" y1="294.60" x2="461.66" y2="297.60" stroke="#505050" stroke-width="0.8"/>
<text x="461.66" y="306.10" font-size="8.4" text-anchor="middle">18</text>
<line x1="476.27" y1="294.60" x2="476.27" y2="296.40" stroke="#505050" stroke-width="0.7"/>
<line x1="490.88" y1="294.60" x2="490.88" y2="297.60" stroke="#505050" stroke-width="0.8"/>
<text x="490.88" y="306.10" font-size="8.4" text-anchor="middle">24</text>
<text transform="translate(350.2,243.5) rotate(-90)" font-size="8.55" text-anchor="middle">Probability of OS (%)</text>
<text x="437.60" y="317.60" font-size="8.7" text-anchor="middle">Months</text>
<path d="M372.50 203.20 H381.79 V207.31 H409.55 V212.07 H433.41 V218.28 H477.73 V225.87 H490.88" fill="none" stroke="#3b4fa0" stroke-width="0.9"/>
<line x1="388.61" y1="206.01" x2="388.61" y2="207.91" stroke="#3b4fa0" stroke-width="0.8"/>
<line x1="417.34" y1="210.77" x2="417.34" y2="212.67" stroke="#3b4fa0" stroke-width="0.8"/>
<line x1="430.00" y1="210.77" x2="430.00" y2="212.67" stroke="#3b4fa0" stroke-width="0.8"/>
<line x1="471.40" y1="216.98" x2="471.40" y2="218.88" stroke="#3b4fa0" stroke-width="0.8"/>
<line x1="474.32" y1="216.98" x2="474.32" y2="218.88" stroke="#3b4fa0" stroke-width="0.8"/>
<line x1="490.39" y1="224.57" x2="490.39" y2="226.47" stroke="#3b4fa0" stroke-width="0.8"/>
<path d="M372.50 203.20 H390.07 V218.46 H399.32 V233.64 H406.14 V248.90 H459.71" fill="none" stroke="#1a8a80" stroke-width="0.9"/>
<line x1="446.08" y1="247.60" x2="446.08" y2="249.50" stroke="#1a8a80" stroke-width="0.8"/>
<line x1="449.00" y1="247.60" x2="449.00" y2="249.50" stroke="#1a8a80" stroke-width="0.8"/>
<line x1="456.79" y1="247.60" x2="456.79" y2="249.50" stroke="#1a8a80" stroke-width="0.8"/>
<line x1="459.71" y1="247.60" x2="459.71" y2="249.50" stroke="#1a8a80" stroke-width="0.8"/>
<path d="M372.50 203.20 H381.79 V211.52 H391.05 V219.83 H394.94 V227.88 H402.49 V236.47 H412.47 V244.79 H447.05 V255.30 H449.49 V273.94 H490.88" fill="none" stroke="#e3262e" stroke-width="0.9"/>
<line x1="466.53" y1="272.64" x2="466.53" y2="274.54" stroke="#e3262e" stroke-width="0.8"/>
<line x1="490.39" y1="272.64" x2="490.39" y2="274.54" stroke="#e3262e" stroke-width="0.8"/>
<rect x="463.4" y="242.8" width="55.90" height="24.20" fill="#fff" stroke="#3a3a3a" stroke-width="0.6"/>
<rect x="463.4" y="248.80" width="17.30" height="6.10" fill="#3b4fa0"/>
<rect x="463.4" y="254.90" width="17.30" height="6.10" fill="#1a8a80"/>
<rect x="463.4" y="261.00" width="17.30" height="6.00" fill="#e3262e"/>
<line x1="463.40" y1="248.80" x2="519.30" y2="248.80" stroke="#3a3a3a" stroke-width="0.5"/>
<line x1="463.40" y1="254.90" x2="519.30" y2="254.90" stroke="#3a3a3a" stroke-width="0.5"/>
<line x1="463.40" y1="261.00" x2="519.30" y2="261.00" stroke="#3a3a3a" stroke-width="0.5"/>
<line x1="480.70" y1="242.80" x2="480.70" y2="267.00" stroke="#3a3a3a" stroke-width="0.5"/>
<line x1="498.00" y1="242.80" x2="498.00" y2="267.00" stroke="#3a3a3a" stroke-width="0.5"/>
<text x="489.35" y="247.13" font-size="3.7" text-anchor="middle" style="fill:#333;stroke:#333;stroke-width:0.05px;">Median</text>
<text x="508.65" y="247.13" font-size="3.7" text-anchor="middle" style="fill:#333;stroke:#333;stroke-width:0.05px;">95% C.I.</text>
<text x="489.35" y="253.18" font-size="3.7" text-anchor="middle" style="fill:#333;stroke:#333;stroke-width:0.05px;">–</text>
<text x="508.65" y="253.18" font-size="3.7" text-anchor="middle" style="fill:#333;stroke:#333;stroke-width:0.05px;">–/–</text>
<text x="489.35" y="259.28" font-size="3.7" text-anchor="middle" style="fill:#333;stroke:#333;stroke-width:0.05px;">6.7</text>
<text x="508.65" y="259.28" font-size="3.7" text-anchor="middle" style="fill:#333;stroke:#333;stroke-width:0.05px;">–/–</text>
<text x="489.35" y="265.33" font-size="3.7" text-anchor="middle" style="fill:#333;stroke:#333;stroke-width:0.05px;">15.2</text>
<text x="508.65" y="265.33" font-size="3.7" text-anchor="middle" style="fill:#333;stroke:#333;stroke-width:0.05px;">1.2–29.3</text>
<line x1="376.20" y1="275.80" x2="381.70" y2="275.80" stroke="#3b4fa0" stroke-width="0.9"/>
<line x1="378.95" y1="274.60" x2="378.95" y2="276.40" stroke="#3b4fa0" stroke-width="0.7"/>
<text transform="translate(383.80,278.32) scale(0.83,1)" font-size="7.0" font-style="italic" style="fill:#333;stroke:#333;stroke-width:0.1px">No BCL2 alterations</text>
<line x1="376.20" y1="283.00" x2="381.70" y2="283.00" stroke="#1a8a80" stroke-width="0.9"/>
<line x1="378.95" y1="281.80" x2="378.95" y2="283.60" stroke="#1a8a80" stroke-width="0.7"/>
<text transform="translate(383.80,285.52) scale(0.83,1)" font-size="7.0" font-style="italic" style="fill:#333;stroke:#333;stroke-width:0.1px">BCL2 translocation</text>
<line x1="376.20" y1="290.20" x2="381.70" y2="290.20" stroke="#e3262e" stroke-width="0.9"/>
<line x1="378.95" y1="289.00" x2="378.95" y2="290.80" stroke="#e3262e" stroke-width="0.7"/>
<text transform="translate(383.80,292.72) scale(0.83,1)" font-size="7.0" font-style="italic" style="fill:#333;stroke:#333;stroke-width:0.1px">BCL2 gain</text>
<line x1="440.20" y1="276.30" x2="440.20" y2="285.80" stroke="#555" stroke-width="0.6"/>
<text x="442.00" y="283.67" font-size="6.3" style="fill:#333;stroke:#333;stroke-width:0.1px"><tspan font-style="italic">P</tspan> = 0.062</text>
<line x1="470.70" y1="277.00" x2="470.70" y2="294.30" stroke="#555" stroke-width="0.6"/>
<text x="472.40" y="288.27" font-size="6.3" style="fill:#333;stroke:#333;stroke-width:0.1px"><tspan font-style="italic">P</tspan> = 0.003</text>
<text x="339.20" y="323.50" font-size="8.7">Number at risk</text>
<line x1="354.50" y1="329.30" x2="366.00" y2="329.30" stroke="#3b4fa0" stroke-width="0.9"/>
<text x="374.20" y="332.30" font-size="8.7" text-anchor="middle">20</text>
<text x="403.60" y="332.30" font-size="8.7" text-anchor="middle">18</text>
<text x="432.80" y="332.30" font-size="8.7" text-anchor="middle">14</text>
<text x="461.20" y="332.30" font-size="8.7" text-anchor="middle">12</text>
<text x="490.30" y="332.30" font-size="8.7" text-anchor="middle">9</text>
<line x1="354.50" y1="338.20" x2="366.00" y2="338.20" stroke="#1a8a80" stroke-width="0.9"/>
<text x="374.20" y="341.20" font-size="8.7" text-anchor="middle">6</text>
<text x="403.60" y="341.20" font-size="8.7" text-anchor="middle">4</text>
<text x="432.80" y="341.20" font-size="8.7" text-anchor="middle">3</text>
<text x="461.20" y="341.20" font-size="8.7" text-anchor="middle">0</text>
<text x="490.30" y="341.20" font-size="8.7" text-anchor="middle"></text>
<line x1="354.50" y1="347.10" x2="366.00" y2="347.10" stroke="#e3262e" stroke-width="0.9"/>
<text x="374.20" y="350.10" font-size="8.7" text-anchor="middle">11</text>
<text x="403.60" y="350.10" font-size="8.7" text-anchor="middle">7</text>
<text x="432.80" y="350.10" font-size="8.7" text-anchor="middle">6</text>
<text x="461.20" y="350.10" font-size="8.7" text-anchor="middle">2</text>
<text x="490.30" y="350.10" font-size="8.7" text-anchor="middle"></text>
<text x="0.30" y="379.90" font-size="10.5" font-weight="bold">F</text>
<g transform="translate(-3.65,371.5) scale(0.785)"><line x1="19.3" y1="53.8" x2="19.3" y2="85.8" stroke="#2f6e8a" stroke-width="1.1"/><line x1="15.2" y1="57.6" x2="19.3" y2="57.6" stroke="#2f6e8a" stroke-width="0.9"/><rect x="14.3" y="56.9" width="1.9" height="2.2" fill="none" stroke="#2f6e8a" stroke-width="0.8"/><rect x="12.4" y="59.3" width="5.0" height="5.8" rx="0.8" fill="#fff" stroke="#2f6e8a" stroke-width="1.0"/><line x1="15.6" y1="85.6" x2="22.6" y2="85.6" stroke="#2f6e8a" stroke-width="0.9"/><circle cx="15.6" cy="85.8" r="1.2" fill="#fff" stroke="#2f6e8a" stroke-width="0.8"/><circle cx="22.6" cy="85.8" r="1.2" fill="#fff" stroke="#2f6e8a" stroke-width="0.8"/><circle cx="28.6" cy="60.3" r="2.75" fill="#1b98d5"/><path d="M24.6 65.2 Q25 63.8 26.6 63.8 L32.6 63.8 Q34.8 63.8 35 66 L35 75 Q35 75.8 34.2 75.8 Q33.4 75.8 33.4 75 L33.4 68.5 L33.1 68.5 L33.1 86.6 Q33.1 87.4 32.2 87.4 L30.2 87.4 Q29.5 87.4 29.5 86.6 L29.5 76.5 L29.1 76.5 L29.1 86.6 Q29.1 87.4 28.3 87.4 L26.4 87.4 Q25.6 87.4 25.6 86.6 L25.6 69.5 L21.2 72 Q20.4 72.4 20.1 71.6 Q19.9 70.9 20.6 70.4 Z" fill="#1b98d5"/></g>
<text x="17.60" y="449.80" font-size="8.7" text-anchor="middle">MCL</text>
<text x="17.80" y="457.80" font-size="8.7" text-anchor="middle">patients</text>
<line x1="31.90" y1="426.40" x2="251.00" y2="426.40" stroke="#3d3d3d" stroke-width="1.0"/>
<polygon points="254.00,426.40 250.80,424.54 250.80,428.26" fill="#231f20"/>
<line x1="52.00" y1="422.60" x2="142.50" y2="422.60" stroke="#333" stroke-width="1.1"/>
<polygon points="49.80,422.60 53.00,420.74 53.00,424.46" fill="#231f20"/>
<polygon points="145.30,422.60 142.10,420.74 142.10,424.46" fill="#231f20"/>
<line x1="47.60" y1="461.00" x2="47.60" y2="434.00" stroke="#231f20" stroke-width="0.8"/>
<polygon points="47.60,431.00 45.86,434.00 49.34,434.00" fill="#231f20"/>
<line x1="150.60" y1="446.80" x2="150.60" y2="434.00" stroke="#231f20" stroke-width="0.8"/>
<polygon points="150.60,431.00 148.86,434.00 152.34,434.00" fill="#231f20"/>
<text x="55.00" y="397.40" font-size="8.7">Bridging therapy</text>
<text x="55.00" y="407.30" font-size="8.7">-Venetoclax-based</text>
<text x="55.00" y="417.50" font-size="8.7">-Non–venetoclax-based</text>
<text x="159.50" y="389.60" font-size="8.7">Follow-up</text>
<text x="159.50" y="399.60" font-size="8.7">-Efficacy (response,</text>
<text x="162.50" y="409.60" font-size="8.7">PFS, OS)</text>
<text x="159.50" y="419.60" font-size="8.7">-Toxicity (CRS, ICANS)</text>
<text x="240.00" y="437.10" font-size="8.7">Days</text>
<text x="121.80" y="455.90" font-size="8.7">CART infusion</text>
<text x="136.80" y="463.50" font-size="8.7">(1 day)</text>
<text x="30.80" y="471.60" font-size="8.7">Aphersis</text>
<g transform="translate(150.2,481.0) scale(0.8)"><circle cx="-15.6" cy="-6.25" r="5.6" fill="#d9ecf3"/><circle cx="-5.6" cy="-9" r="5.6" fill="#d9ecf3"/><circle cx="9.4" cy="-7.5" r="5.6" fill="#d9ecf3"/><circle cx="-5.6" cy="2.5" r="5.6" fill="#d9ecf3"/><circle cx="-15.6" cy="7" r="5.6" fill="#d9ecf3"/><circle cx="3.4" cy="7" r="5.6" fill="#d9ecf3"/><circle cx="15.9" cy="4" r="5.6" fill="#d9ecf3"/><circle cx="-15.6" cy="-6.25" r="3.6" fill="#c2dfeb"/><circle cx="-5.6" cy="-9" r="3.6" fill="#c2dfeb"/><circle cx="9.4" cy="-7.5" r="3.6" fill="#c2dfeb"/><circle cx="-5.6" cy="2.5" r="3.6" fill="#c2dfeb"/><circle cx="-15.6" cy="7" r="3.6" fill="#c2dfeb"/><circle cx="3.4" cy="7" r="3.6" fill="#c2dfeb"/><circle cx="15.9" cy="4" r="3.6" fill="#c2dfeb"/><line x1="-13.3" y1="-5.4" x2="-10.5" y2="-4.3" stroke="#b3d9e8" stroke-width="0.9"/><line x1="-15.3" y1="-3.8" x2="-15.0" y2="-1.0" stroke="#b3d9e8" stroke-width="0.9"/><line x1="-17.1" y1="-4.2" x2="-19.4" y2="-1.1" stroke="#b3d9e8" stroke-width="0.9"/><line x1="-18.0" y1="-5.8" x2="-21.4" y2="-5.1" stroke="#b3d9e8" stroke-width="0.9"/><line x1="-17.1" y1="-8.2" x2="-18.9" y2="-10.5" stroke="#b3d9e8" stroke-width="0.9"/><line x1="-15.2" y1="-8.7" x2="-14.7" y2="-12.3" stroke="#b3d9e8" stroke-width="0.9"/><line x1="-13.4" y1="-7.5" x2="-10.2" y2="-9.2" stroke="#b3d9e8" stroke-width="0.9"/><line x1="-3.1" y1="-8.9" x2="-0.2" y2="-8.8" stroke="#b3d9e8" stroke-width="0.9"/><line x1="-4.3" y1="-6.8" x2="-2.4" y2="-3.5" stroke="#b3d9e8" stroke-width="0.9"/><line x1="-6.6" y1="-6.7" x2="-8.0" y2="-3.3" stroke="#b3d9e8" stroke-width="0.9"/><line x1="-7.9" y1="-8.1" x2="-11.4" y2="-6.9" stroke="#b3d9e8" stroke-width="0.9"/><line x1="-7.9" y1="-10.0" x2="-10.7" y2="-11.4" stroke="#b3d9e8" stroke-width="0.9"/><line x1="-5.6" y1="-11.5" x2="-5.7" y2="-15.2" stroke="#b3d9e8" stroke-width="0.9"/><line x1="-3.8" y1="-10.8" x2="-1.8" y2="-12.8" stroke="#b3d9e8" stroke-width="0.9"/><line x1="11.9" y1="-7.2" x2="15.0" y2="-6.8" stroke="#b3d9e8" stroke-width="0.9"/><line x1="10.2" y1="-5.1" x2="11.1" y2="-2.2" stroke="#b3d9e8" stroke-width="0.9"/><line x1="8.0" y1="-5.5" x2="5.7" y2="-2.3" stroke="#b3d9e8" stroke-width="0.9"/><line x1="7.1" y1="-6.6" x2="4.1" y2="-5.3" stroke="#b3d9e8" stroke-width="0.9"/><line x1="7.5" y1="-9.1" x2="5.3" y2="-10.9" stroke="#b3d9e8" stroke-width="0.9"/><line x1="9.4" y1="-10.0" x2="9.3" y2="-13.9" stroke="#b3d9e8" stroke-width="0.9"/><line x1="11.1" y1="-9.3" x2="13.5" y2="-11.9" stroke="#b3d9e8" stroke-width="0.9"/><line x1="-3.1" y1="2.8" x2="0.7" y2="3.4" stroke="#b3d9e8" stroke-width="0.9"/><line x1="-4.0" y1="4.4" x2="-2.2" y2="6.6" stroke="#b3d9e8" stroke-width="0.9"/><line x1="-6.0" y1="5.0" x2="-6.6" y2="8.4" stroke="#b3d9e8" stroke-width="0.9"/><line x1="-7.8" y1="3.8" x2="-10.3" y2="5.2" stroke="#b3d9e8" stroke-width="0.9"/><line x1="-7.7" y1="1.2" x2="-11.0" y2="-0.9" stroke="#b3d9e8" stroke-width="0.9"/><line x1="-6.0" y1="0.0" x2="-6.4" y2="-3.2" stroke="#b3d9e8" stroke-width="0.9"/><line x1="-3.7" y1="0.8" x2="-1.6" y2="-1.1" stroke="#b3d9e8" stroke-width="0.9"/><line x1="-13.3" y1="7.9" x2="-10.0" y2="9.3" stroke="#b3d9e8" stroke-width="0.9"/><line x1="-15.7" y1="9.5" x2="-15.8" y2="12.4" stroke="#b3d9e8" stroke-width="0.9"/><line x1="-17.3" y1="8.8" x2="-19.8" y2="11.3" stroke="#b3d9e8" stroke-width="0.9"/><line x1="-18.1" y1="7.2" x2="-21.2" y2="7.4" stroke="#b3d9e8" stroke-width="0.9"/><line x1="-16.6" y1="4.7" x2="-18.2" y2="1.0" stroke="#b3d9e8" stroke-width="0.9"/><line x1="-15.2" y1="4.5" x2="-14.7" y2="0.9" stroke="#b3d9e8" stroke-width="0.9"/><line x1="-13.1" y1="6.5" x2="-10.1" y2="5.9" stroke="#b3d9e8" stroke-width="0.9"/><line x1="5.7" y1="7.9" x2="8.8" y2="9.1" stroke="#b3d9e8" stroke-width="0.9"/><line x1="3.5" y1="9.5" x2="3.7" y2="13.0" stroke="#b3d9e8" stroke-width="0.9"/><line x1="1.5" y1="8.6" x2="-0.8" y2="10.4" stroke="#b3d9e8" stroke-width="0.9"/><line x1="0.9" y1="6.9" x2="-2.9" y2="6.8" stroke="#b3d9e8" stroke-width="0.9"/><line x1="2.1" y1="4.9" x2="0.4" y2="2.0" stroke="#b3d9e8" stroke-width="0.9"/><line x1="4.1" y1="4.6" x2="5.2" y2="0.8" stroke="#b3d9e8" stroke-width="0.9"/><line x1="5.8" y1="6.2" x2="8.5" y2="5.3" stroke="#b3d9e8" stroke-width="0.9"/><line x1="17.9" y1="5.5" x2="20.5" y2="7.5" stroke="#b3d9e8" stroke-width="0.9"/><line x1="16.1" y1="6.5" x2="16.3" y2="9.8" stroke="#b3d9e8" stroke-width="0.9"/><line x1="14.0" y1="5.6" x2="11.8" y2="7.5" stroke="#b3d9e8" stroke-width="0.9"/><line x1="13.5" y1="3.2" x2="10.8" y2="2.3" stroke="#b3d9e8" stroke-width="0.9"/><line x1="15.2" y1="1.6" x2="14.4" y2="-1.1" stroke="#b3d9e8" stroke-width="0.9"/><line x1="17.3" y1="1.9" x2="19.5" y2="-1.2" stroke="#b3d9e8" stroke-width="0.9"/><line x1="18.4" y1="3.5" x2="22.0" y2="2.9" stroke="#b3d9e8" stroke-width="0.9"/><circle cx="-10.5" cy="-4.3" r="1.27" fill="#2a7890"/><circle cx="-15.0" cy="-1.0" r="1.12" fill="#2a7890"/><circle cx="-19.4" cy="-1.1" r="1.17" fill="#1f6580"/><circle cx="-21.4" cy="-5.1" r="1.31" fill="#2a7890"/><circle cx="-18.9" cy="-10.5" r="1.25" fill="#2a7890"/><circle cx="-14.7" cy="-12.3" r="1.30" fill="#2a7890"/><circle cx="-10.2" cy="-9.2" r="1.07" fill="#2a7890"/><circle cx="-0.2" cy="-8.8" r="1.10" fill="#1f6580"/><circle cx="-2.4" cy="-3.5" r="1.35" fill="#1f6580"/><circle cx="-8.0" cy="-3.3" r="1.05" fill="#1f6580"/><circle cx="-11.4" cy="-6.9" r="1.11" fill="#2a7890"/><circle cx="-10.7" cy="-11.4" r="1.23" fill="#2a7890"/><circle cx="-5.7" cy="-15.2" r="1.16" fill="#1f6580"/><circle cx="-1.8" cy="-12.8" r="1.22" fill="#2a7890"/><circle cx="15.0" cy="-6.8" r="1.08" fill="#2a7890"/><circle cx="11.1" cy="-2.2" r="1.26" fill="#2a7890"/><circle cx="5.7" cy="-2.3" r="1.19" fill="#2a7890"/><circle cx="4.1" cy="-5.3" r="1.28" fill="#1f6580"/><circle cx="5.3" cy="-10.9" r="1.32" fill="#2a7890"/><circle cx="9.3" cy="-13.9" r="1.26" fill="#2a7890"/><circle cx="13.5" cy="-11.9" r="1.31" fill="#1f6580"/><circle cx="0.7" cy="3.4" r="1.08" fill="#2a7890"/><circle cx="-2.2" cy="6.6" r="1.21" fill="#2a7890"/><circle cx="-6.6" cy="8.4" r="1.24" fill="#2a7890"/><circle cx="-10.3" cy="5.2" r="1.28" fill="#2a7890"/><circle cx="-11.0" cy="-0.9" r="1.05" fill="#2a7890"/><circle cx="-6.4" cy="-3.2" r="1.19" fill="#2a7890"/><circle cx="-1.6" cy="-1.1" r="1.17" fill="#2a7890"/><circle cx="-10.0" cy="9.3" r="1.19" fill="#2a7890"/><circle cx="-15.8" cy="12.4" r="1.21" fill="#1f6580"/><circle cx="-19.8" cy="11.3" r="1.06" fill="#1f6580"/><circle cx="-21.2" cy="7.4" r="1.32" fill="#1f6580"/><circle cx="-18.2" cy="1.0" r="1.21" fill="#2a7890"/><circle cx="-14.7" cy="0.9" r="1.32" fill="#2a7890"/><circle cx="-10.1" cy="5.9" r="1.24" fill="#2a7890"/><circle cx="8.8" cy="9.1" r="1.14" fill="#2a7890"/><circle cx="3.7" cy="13.0" r="1.27" fill="#1f6580"/><circle cx="-0.8" cy="10.4" r="1.26" fill="#2a7890"/><circle cx="-2.9" cy="6.8" r="1.20" fill="#2a7890"/><circle cx="0.4" cy="2.0" r="1.07" fill="#1f6580"/><circle cx="5.2" cy="0.8" r="1.16" fill="#1f6580"/><circle cx="8.5" cy="5.3" r="1.12" fill="#1f6580"/><circle cx="20.5" cy="7.5" r="1.27" fill="#1f6580"/><circle cx="16.3" cy="9.8" r="1.31" fill="#1f6580"/><circle cx="11.8" cy="7.5" r="1.23" fill="#2a7890"/><circle cx="10.8" cy="2.3" r="1.25" fill="#1f6580"/><circle cx="14.4" cy="-1.1" r="1.07" fill="#2a7890"/><circle cx="19.5" cy="-1.2" r="1.23" fill="#2a7890"/><circle cx="22.0" cy="2.9" r="1.07" fill="#2a7890"/></g>
<text x="267.70" y="380.10" font-size="10.5" font-weight="bold">G</text>
<text x="323.20" y="385.90" font-size="8.7" text-anchor="middle">Response</text>
<text x="323.40" y="395.50" font-size="8.7" text-anchor="middle">rate (MCL)</text>
<line x1="299.80" y1="400.60" x2="299.80" y2="473.60" stroke="#505050" stroke-width="0.9"/>
<line x1="299.80" y1="473.60" x2="346.70" y2="473.60" stroke="#505050" stroke-width="0.9"/>
<line x1="296.80" y1="473.60" x2="299.80" y2="473.60" stroke="#505050" stroke-width="0.8"/>
<text x="294.20" y="476.60" font-size="8.4" text-anchor="end">0</text>
<line x1="298.00" y1="466.63" x2="299.80" y2="466.63" stroke="#505050" stroke-width="0.7"/>
<line x1="296.80" y1="459.66" x2="299.80" y2="459.66" stroke="#505050" stroke-width="0.8"/>
<text x="294.20" y="462.66" font-size="8.4" text-anchor="end">20</text>
<line x1="298.00" y1="452.69" x2="299.80" y2="452.69" stroke="#505050" stroke-width="0.7"/>
<line x1="296.80" y1="445.72" x2="299.80" y2="445.72" stroke="#505050" stroke-width="0.8"/>
<text x="294.20" y="448.72" font-size="8.4" text-anchor="end">40</text>
<line x1="298.00" y1="438.75" x2="299.80" y2="438.75" stroke="#505050" stroke-width="0.7"/>
<line x1="296.80" y1="431.78" x2="299.80" y2="431.78" stroke="#505050" stroke-width="0.8"/>
<text x="294.20" y="434.78" font-size="8.4" text-anchor="end">60</text>
<line x1="298.00" y1="424.81" x2="299.80" y2="424.81" stroke="#505050" stroke-width="0.7"/>
<line x1="296.80" y1="417.84" x2="299.80" y2="417.84" stroke="#505050" stroke-width="0.8"/>
<text x="294.20" y="420.84" font-size="8.4" text-anchor="end">80</text>
<line x1="298.00" y1="410.87" x2="299.80" y2="410.87" stroke="#505050" stroke-width="0.7"/>
<line x1="296.80" y1="403.90" x2="299.80" y2="403.90" stroke="#505050" stroke-width="0.8"/>
<text x="294.20" y="406.90" font-size="8.4" text-anchor="end">100</text>
<text transform="translate(277.9,440) rotate(-90)" font-size="8.35" text-anchor="middle">Frequency (%)</text>
<rect x="305.8" y="451.71" width="14.70" height="21.89" fill="#3650a6" stroke="#4a4a4a" stroke-width="0.6"/>
<rect x="305.8" y="438.33" width="14.70" height="13.38" fill="#8b91cb" stroke="#4a4a4a" stroke-width="0.6"/>
<rect x="305.8" y="403.90" width="14.70" height="34.43" fill="#c7cae9" stroke="#4a4a4a" stroke-width="0.6"/>
<text x="312.55" y="423.94" font-size="5.4" text-anchor="middle" style="fill:#ffffff;stroke:#ffffff;stroke-width:0.12px;">PD</text>
<text x="312.55" y="446.54" font-size="5.4" text-anchor="middle" style="fill:#ffffff;stroke:#ffffff;stroke-width:0.12px;">PR</text>
<text x="312.55" y="460.14" font-size="5.4" text-anchor="middle" style="fill:#ffffff;stroke:#ffffff;stroke-width:0.12px;">CR</text>
<line x1="313.15" y1="473.60" x2="313.15" y2="476.00" stroke="#3a3a3a" stroke-width="0.8"/>
<rect x="326.5" y="411.99" width="15.00" height="61.61" fill="#e8222b" stroke="#4a4a4a" stroke-width="0.6"/>
<rect x="326.5" y="403.90" width="15.00" height="8.09" fill="#fad3c2" stroke="#4a4a4a" stroke-width="0.6"/>
<text x="333.40" y="437.44" font-size="5.4" text-anchor="middle" style="fill:#ffffff;stroke:#ffffff;stroke-width:0.12px;">CR</text>
<line x1="334.00" y1="473.60" x2="334.00" y2="476.00" stroke="#3a3a3a" stroke-width="0.8"/>
<text x="312.20" y="484.40" font-size="8.7" text-anchor="middle">No</text>
<text x="332.00" y="484.40" font-size="8.7" text-anchor="middle">Yes</text>
<text x="323.50" y="497.10" font-size="8.7" text-anchor="middle">Venetoclax-based</text>
<text x="323.00" y="505.60" font-size="8.7" text-anchor="middle">bridging therapy</text>
<text x="370.30" y="379.90" font-size="10.5" font-weight="bold">H</text>
<text x="419.60" y="393.90" font-size="8.7">EFS (MCL)</text>
<line x1="400.50" y1="401.50" x2="400.50" y2="471.60" stroke="#505050" stroke-width="0.9"/>
<line x1="400.50" y1="471.60" x2="502.70" y2="471.60" stroke="#505050" stroke-width="0.9"/>
<line x1="397.50" y1="471.60" x2="400.50" y2="471.60" stroke="#505050" stroke-width="0.8"/>
<text x="395.80" y="475.00" font-size="8.4" text-anchor="end">0</text>
<line x1="398.70" y1="465.27" x2="400.50" y2="465.27" stroke="#505050" stroke-width="0.7"/>
<line x1="397.50" y1="458.94" x2="400.50" y2="458.94" stroke="#505050" stroke-width="0.8"/>
<text x="395.80" y="462.34" font-size="8.4" text-anchor="end">20</text>
<line x1="398.70" y1="452.61" x2="400.50" y2="452.61" stroke="#505050" stroke-width="0.7"/>
<line x1="397.50" y1="446.28" x2="400.50" y2="446.28" stroke="#505050" stroke-width="0.8"/>
<text x="395.80" y="449.68" font-size="8.4" text-anchor="end">40</text>
<line x1="398.70" y1="439.95" x2="400.50" y2="439.95" stroke="#505050" stroke-width="0.7"/>
<line x1="397.50" y1="433.62" x2="400.50" y2="433.62" stroke="#505050" stroke-width="0.8"/>
<text x="395.80" y="437.02" font-size="8.4" text-anchor="end">60</text>
<line x1="398.70" y1="427.29" x2="400.50" y2="427.29" stroke="#505050" stroke-width="0.7"/>
<line x1="397.50" y1="420.96" x2="400.50" y2="420.96" stroke="#505050" stroke-width="0.8"/>
<text x="395.80" y="424.36" font-size="8.4" text-anchor="end">80</text>
<line x1="398.70" y1="414.63" x2="400.50" y2="414.63" stroke="#505050" stroke-width="0.7"/>
<line x1="397.50" y1="408.30" x2="400.50" y2="408.30" stroke="#505050" stroke-width="0.8"/>
<text x="395.80" y="411.70" font-size="8.4" text-anchor="end">100</text>
<line x1="400.50" y1="471.60" x2="400.50" y2="474.60" stroke="#505050" stroke-width="0.8"/>
<text x="400.50" y="483.20" font-size="8.4" text-anchor="middle">0</text>
<line x1="413.25" y1="471.60" x2="413.25" y2="473.40" stroke="#505050" stroke-width="0.7"/>
<line x1="426.00" y1="471.60" x2="426.00" y2="474.60" stroke="#505050" stroke-width="0.8"/>
<text x="426.00" y="483.20" font-size="8.4" text-anchor="middle">6</text>
<line x1="438.75" y1="471.60" x2="438.75" y2="473.40" stroke="#505050" stroke-width="0.7"/>
<line x1="451.50" y1="471.60" x2="451.50" y2="474.60" stroke="#505050" stroke-width="0.8"/>
<text x="451.50" y="483.20" font-size="8.4" text-anchor="middle">12</text>
<line x1="464.25" y1="471.60" x2="464.25" y2="473.40" stroke="#505050" stroke-width="0.7"/>
<line x1="477.00" y1="471.60" x2="477.00" y2="474.60" stroke="#505050" stroke-width="0.8"/>
<text x="477.00" y="483.20" font-size="8.4" text-anchor="middle">18</text>
<line x1="489.75" y1="471.60" x2="489.75" y2="473.40" stroke="#505050" stroke-width="0.7"/>
<line x1="502.50" y1="471.60" x2="502.50" y2="474.60" stroke="#505050" stroke-width="0.8"/>
<text x="502.50" y="483.20" font-size="8.4" text-anchor="middle">24</text>
<text transform="translate(376.9,436) rotate(-90)" font-size="8.7" text-anchor="middle">Probability of EFS (%)</text>
<text x="450.80" y="492.60" font-size="8.7" text-anchor="middle">Months</text>
<path d="M399.00 408.30 H401.77 V414.63 H407.30 V420.96 H411.55 V427.29 H425.57 V434.70 H458.73 V453.12 H468.93" fill="none" stroke="#3b4fa0" stroke-width="0.9"/>
<line x1="428.12" y1="433.40" x2="428.12" y2="435.30" stroke="#3b4fa0" stroke-width="0.8"/>
<line x1="433.65" y1="433.40" x2="433.65" y2="435.30" stroke="#3b4fa0" stroke-width="0.8"/>
<line x1="440.88" y1="433.40" x2="440.88" y2="435.30" stroke="#3b4fa0" stroke-width="0.8"/>
<line x1="443.43" y1="433.40" x2="443.43" y2="435.30" stroke="#3b4fa0" stroke-width="0.8"/>
<line x1="468.93" y1="451.82" x2="468.93" y2="453.72" stroke="#3b4fa0" stroke-width="0.8"/>
<path d="M399.00 408.30 H471.90 V424.12 H479.55" fill="none" stroke="#e2453f" stroke-width="0.9"/>
<line x1="410.70" y1="407.00" x2="410.70" y2="408.90" stroke="#e2453f" stroke-width="0.8"/>
<line x1="437.90" y1="407.00" x2="437.90" y2="408.90" stroke="#e2453f" stroke-width="0.8"/>
<line x1="468.07" y1="407.00" x2="468.07" y2="408.90" stroke="#e2453f" stroke-width="0.8"/>
<line x1="476.57" y1="422.82" x2="476.57" y2="424.73" stroke="#e2453f" stroke-width="0.8"/>
<line x1="479.55" y1="422.82" x2="479.55" y2="424.73" stroke="#e2453f" stroke-width="0.8"/>
<rect x="461.5" y="431.5" width="55.80" height="18.90" fill="#fff" stroke="#3a3a3a" stroke-width="0.6"/>
<rect x="461.5" y="437.60" width="17.30" height="6.20" fill="#3b4fa0"/>
<rect x="461.5" y="443.80" width="17.30" height="6.60" fill="#e3262e"/>
<line x1="461.50" y1="437.60" x2="517.30" y2="437.60" stroke="#3a3a3a" stroke-width="0.5"/>
<line x1="461.50" y1="443.80" x2="517.30" y2="443.80" stroke="#3a3a3a" stroke-width="0.5"/>
<line x1="478.80" y1="431.50" x2="478.80" y2="450.40" stroke="#3a3a3a" stroke-width="0.5"/>
<line x1="496.20" y1="431.50" x2="496.20" y2="450.40" stroke="#3a3a3a" stroke-width="0.5"/>
<text x="487.50" y="435.88" font-size="3.7" text-anchor="middle" style="fill:#333;stroke:#333;stroke-width:0.05px;">Median</text>
<text x="506.75" y="435.88" font-size="3.7" text-anchor="middle" style="fill:#333;stroke:#333;stroke-width:0.05px;">95% C.I.</text>
<text x="487.50" y="442.03" font-size="3.7" text-anchor="middle" style="fill:#333;stroke:#333;stroke-width:0.05px;">–</text>
<text x="506.75" y="442.03" font-size="3.7" text-anchor="middle" style="fill:#333;stroke:#333;stroke-width:0.05px;">–/–</text>
<text x="487.50" y="448.43" font-size="3.7" text-anchor="middle" style="fill:#333;stroke:#333;stroke-width:0.05px;">13.8</text>
<text x="506.75" y="448.43" font-size="3.7" text-anchor="middle" style="fill:#333;stroke:#333;stroke-width:0.05px;">1.9–25.6</text>
<line x1="403.00" y1="458.00" x2="406.40" y2="458.00" stroke="#e2453f" stroke-width="0.8"/>
<text x="408.20" y="460.20" font-size="5.8" style="fill:#333;stroke:#333;stroke-width:0.1px;">Venetoclax-based bridging YES</text>
<line x1="403.00" y1="464.20" x2="406.40" y2="464.20" stroke="#3b4fa0" stroke-width="0.8"/>
<text x="408.20" y="466.40" font-size="5.8" style="fill:#333;stroke:#333;stroke-width:0.1px;">Venetoclax-based bridging NO</text>
<line x1="490.20" y1="456.50" x2="490.20" y2="465.00" stroke="#555" stroke-width="0.6"/>
<text x="491.80" y="461.87" font-size="6.3" style="fill:#333;stroke:#333;stroke-width:0.1px"><tspan font-style="italic">P</tspan> = 0.018</text>
<text x="367.70" y="503.90" font-size="10.0">Number at risk</text>
<line x1="385.20" y1="512.60" x2="395.40" y2="512.60" stroke="#e88a80" stroke-width="0.9"/>
<text x="399.60" y="515.60" font-size="9.6" text-anchor="middle">8</text>
<text x="424.80" y="515.60" font-size="9.6" text-anchor="middle">6</text>
<text x="450.20" y="515.60" font-size="9.6" text-anchor="middle">5</text>
<text x="476.30" y="515.60" font-size="9.6" text-anchor="middle">2</text>
<text x="501.40" y="515.60" font-size="9.6" text-anchor="middle">0</text>
<line x1="385.20" y1="521.10" x2="395.40" y2="521.10" stroke="#3b4fa0" stroke-width="0.9"/>
<text x="399.60" y="524.10" font-size="9.6" text-anchor="middle">10</text>
<text x="424.80" y="524.10" font-size="9.6" text-anchor="middle">5</text>
<text x="450.20" y="524.10" font-size="9.6" text-anchor="middle">2</text>
<text x="476.30" y="524.10" font-size="9.6" text-anchor="middle">0</text>
<text x="501.40" y="524.10" font-size="9.6" text-anchor="middle">0</text></svg></body></html>
